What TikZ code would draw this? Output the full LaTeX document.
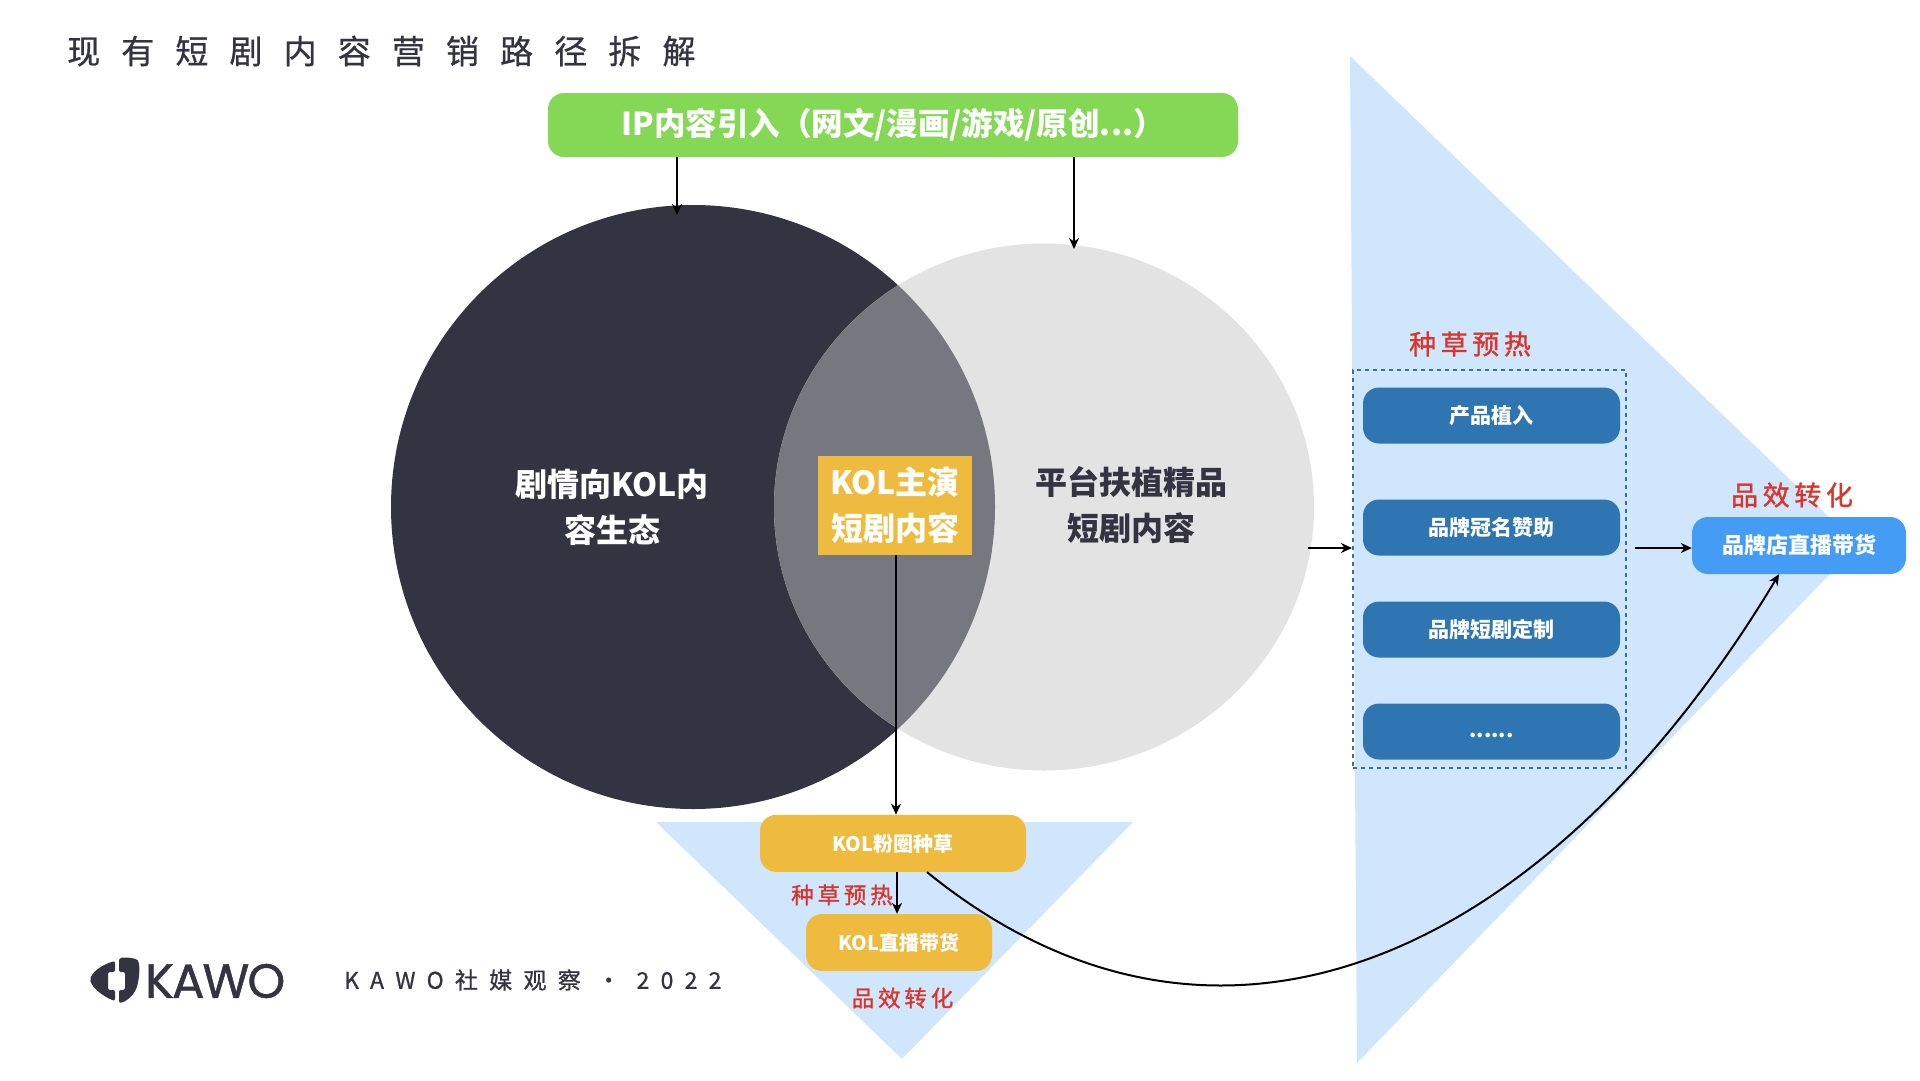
\documentclass[tikz,border=0pt]{standalone}
\usepackage{fontspec}
\setmainfont{Noto Sans CJK SC}
\newfontfamily\titlefont[LetterSpace=64,FakeBold=0.8]{Noto Sans CJK SC}
\newfontfamily\footfont[LetterSpace=49,FakeBold=0.8]{Noto Sans CJK SC}
\newfontfamily\redfont[LetterSpace=17,FakeBold=1.2]{Noto Sans CJK SC}
\newfontfamily\logofont[LetterSpace=-4,FakeBold=1]{Poppins}
\usepackage{tikz}
\usetikzlibrary{arrows.meta}
\usetikzlibrary{positioning,shapes.geometric}

\definecolor{inkdark}{HTML}{343341}
\definecolor{mistgrey}{HTML}{E3E3E3}
\definecolor{overlapgrey}{HTML}{77777F}
\definecolor{skyfill}{HTML}{CFE6FC}
\definecolor{ipgreen}{HTML}{85D855}
\definecolor{kolyellow}{HTML}{EEBB3F}
\definecolor{planblue}{HTML}{2E75B2}
\definecolor{storeblue}{HTML}{459CF4}
\definecolor{dashblue}{HTML}{3A6F9A}
\definecolor{labelred}{HTML}{D8352B}

\tikzset{
  flow/.style={draw=black, line width=2pt, -{Stealth[length=11pt,width=10pt]}},
  pill/.style={rounded corners=16pt, inner sep=0pt, text=white, font=\fontsize{20}{24}\selectfont\bfseries},
  planpill/.style={pill, fill=planblue, minimum width=257pt, minimum height=56pt, font=\fontsize{21}{24}\selectfont\bfseries},
  kolpill/.style={pill, fill=kolyellow, minimum height=57pt},
  bigtext/.style={align=center, inner sep=0pt, font=\fontsize{32}{46}\selectfont\bfseries},
  redtag/.style={inner sep=0pt, text=labelred, font=\fontsize{27}{30}\redfont},
  smallredtag/.style={redtag, font=\fontsize{22.5}{26}\redfont},
}

\begin{document}
\begin{tikzpicture}[x=1pt, y=-1pt]
    \useasboundingbox (0,0) rectangle (1920,1080);

    \fill[skyfill] (1350,56) -- (1858,545) -- (1357,1063) -- cycle;
    \fill[skyfill] (656,822) -- (1133,822) -- (902,1059) -- cycle;

    \node (title)[inner sep=0pt, text=inkdark, anchor=west, font=\fontsize{33}{36}\titlefont] at (67,51) {现有短剧内容营销路径拆解};
    \node (ip)[pill, fill=ipgreen, minimum width=690pt, minimum height=64pt, font=\fontsize{31.5}{36}\selectfont\bfseries] at (893,125) {IP内容引入（网文/漫画/游戏/原创...）};

    \node (dark)[circle, fill=inkdark, minimum size=604pt, inner sep=0pt] at (693,507) {};
    \node (light)[ellipse, fill=mistgrey, minimum width=540pt, minimum height=527pt, inner sep=0pt] at (1044,507) {};
    \begin{scope}
      \clip (693,507) circle (302pt);
      \fill[overlapgrey] (1044,507) ellipse (270pt and 263.5pt);
    \end{scope}

    \node (storyline)[bigtext, text=white] at (612,507) {剧情向KOL内\\容生态};
    \node (platform)[bigtext, text=inkdark] at (1131,505) {平台扶植精品\\短剧内容};
    \node (kolstar)[bigtext, text=white, fill=kolyellow, minimum width=154pt, minimum height=99pt] at (895,505) {KOL主演\\短剧内容};

    \node (kolfans)[kolpill, minimum width=266pt, below=260pt of kolstar, xshift=-2pt] {KOL粉圈种草};
    \node (kollive)[kolpill, minimum width=186pt] at (899,942.5) {KOL直播带货};
    \node (seedlow)[smallredtag] at (842,895) {种草预热};
    \node (convlow)[smallredtag] at (902.5,998) {品效转化};

    \node (planbox)[draw=dashblue, line width=2pt, dash pattern=on 4pt off 4pt, minimum width=273pt, minimum height=398pt, inner sep=0pt] at (1489.5,569) {};
    \matrix (plans)[row sep=46pt, every node/.style={planpill}] at (1491.5,573.5) {
      \node (product) {产品植入}; \\[10pt]
      \node (naming) {品牌冠名赞助}; \\
      \node (custom) {品牌短剧定制}; \\
      \node (others) {\raisebox{-6pt}[0pt][0pt]{......}}; \\
    };
    \node (seedhigh)[redtag] at (1470,344) {种草预热};

    \node (store)[pill, fill=storeblue, minimum width=214pt, minimum height=57pt, font=\fontsize{22}{24}\selectfont\bfseries] at (1799,545.5) {品牌店直播带货};
    \node (convhigh)[redtag] at (1792,495) {品效转化};

    \coordinate (darkin) at (677,215);
    \coordinate (lightin) at (1074,249);
    \coordinate (lightout) at (1308,548);
    \coordinate (storein) at (1635,548);

    \draw[flow] (ip.south -| darkin) -- (darkin);
    \draw[flow] (ip.south -| lightin) -- (lightin);
    \draw[flow] ([xshift=1pt]kolstar.south) -- ([xshift=1pt]kolstar.south |- kolfans.north);
    \draw[flow] ([xshift=4pt]kolfans.south) -- ([xshift=4pt]kolfans.south |- kollive.north);
    \draw[flow] (lightout) -- (lightout -| planbox.west);
    \draw[flow] (storein) -- (storein -| store.west);
    \draw[flow] ([xshift=34pt]kolfans.south) .. controls (1220,1110) and (1550,955) .. ([xshift=-20pt]store.south);

    \fill[inkdark, rounded corners=2pt] (115,961) .. controls (104,964) and (94,970) .. (90,979) .. controls (92,988) and (104,997) .. (115,1001) -- (115,990) -- (108,990) -- (108,972) -- (115,972) -- cycle;
    \fill[inkdark, rounded corners=2pt] (119,958) .. controls (127,957) and (136,958) .. (139,962) .. controls (140,975) and (138,986) .. (134,993) .. controls (130,998) and (125,1002) .. (119,1003) -- (119,990) -- (125,990) -- (125,972) -- (119,972) -- cycle;
    \node (logo)[inner sep=0pt, text=inkdark, anchor=west, font=\fontsize{48}{52}\logofont] at (145,981) {KAWO};
    \node (footer)[inner sep=0pt, text=inkdark, anchor=west, font=\fontsize{23}{26}\footfont] at (344,980) {KAWO社媒观察 • 2022};
  \end{tikzpicture}
\end{document}
